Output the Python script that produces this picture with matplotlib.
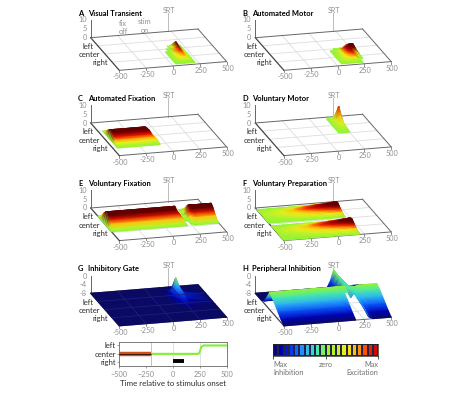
import numpy as np
import matplotlib
matplotlib.use('Agg')
import matplotlib.pyplot as plt
from matplotlib.colors import LinearSegmentedColormap

plt.rcParams['font.family'] = ['Lato', 'DejaVu Sans']
n = np.nan

# --- data: rows go back (left) to front (right), columns are ms ---
A_T = [40, 70, 100, 130, 160, 190, 220]
A_S = [.42, .5, .58, .66, .74, .82, .9, .95]
A_Z = [[0, 0, 0, 0, 1.5, 0, 0],
       [0, 0, 0, 1, 3.7, .5, 0],
       [0, 0, .3, 1.6, 3, 1, 0],
       [0, .1, .8, 1.8, 2.4, 1, 0],
       [0, .3, 1, 1.5, 1.7, .9, 0],
       [0, .3, .8, 1, 1, .6, 0],
       [0, .15, .25, .25, .25, .2, 0],
       [0, 0, 0, 0, 0, 0, 0]]

B_T = [50, 90, 130, 170, 210, 250, 280]
B_S = [.5, .55, .6, .66, .72, .78, .84, .9, .95]
B_Z = [[0, 0, 0, 0, 1.5, 1.5, 0],
       [0, 0, .3, 1.2, 2.8, 3, 0],
       [0, .1, .8, 2.4, 3.9, 3.9, 0],
       [0, .2, 1, 2.4, 3.2, 3, 0],
       [0, .3, 1, 2, 2.6, 1.5, 0],
       [0, .4, 1, 1.6, 1.9, .6, 0],
       [.1, .4, .8, 1.1, 1.1, 0, 0],
       [.1, .25, .4, .5, .4, 0, 0],
       [0, 0, 0, 0, 0, 0, 0]]

C_T = [-458, -445, -120, -100, -80, -60]
C_S = [.26, .32, .38, .44, .5, .54, .58, .62, .66, .7, .74, .78]
C_Z = [[0, 0, 0, 0, 0, 0],
       [0, 1, 1, .3, 0, 0],
       [0, 2.5, 2.5, 1, 0, 0],
       [0, 4, 4, 1.5, 0, 0],
       [0, 5, 5, 3, 0, 0],
       [0, 4.5, 4.5, 4, 1, 0],
       [0, 3.7, 3.7, 3.7, 1.5, 0],
       [0, 2.9, 2.9, 2.9, 2, 0],
       [0, 2.1, 2.1, 2.1, 2.1, .5],
       [0, 1.3, 1.3, 1.3, 1.3, .8],
       [0, .5, .5, .5, .5, .4],
       [0, 0, 0, 0, 0, 0]]

D_T = [150, 180, 205, 230, 255]
D_S = [.05, .1, .15, .2, .27, .33, .38, .43, .48]
D_Z = [[0, 0, 0, 0, 0],
       [0, 1, 1.5, 1, 0],
       [0, 1.8, 3.5, 1.8, 0],
       [0, 2.4, 6.5, 2.4, 0],
       [0, 3, 11, 3.5, 0],
       [0, 2.6, 6.5, 3, 0],
       [0, 1.8, 4, 2.4, 0],
       [0, .9, 2, 1.3, 0],
       [0, 0, 0, 0, 0]]

E_T = [-500, -480, 150, 170, 190, 210, 250, 270, 290, 310, 490, 500]
E_S = [.25, .3, .35, .4, .45, .5, .55, .6, .65, .7, .73]
E_Z = [[0, 0, 0, 0, 0, 0, 0, 0, 0, 0, 0, 0],
       [0, 1.2, 1.2, 0, 0, 0, 0, .4, 1.2, 1.2, 1.2, 0],
       [0, 2.8, 2.4, .5, 0, 0, 0, .9, 2.8, 2.8, 2.8, 0],
       [0, 4.5, 4, 1, 0, 0, 0, 1.5, 4.5, 4.5, 4.5, 0],
       [0, 6, 5.5, 1.5, 0, 0, .3, 2.5, 6, 6, 6, 0],
       [0, 7, 7, 2, 0, 0, 1, 7, 7, 7, 7, 0],
       [0, 5.8, 5.8, 3.5, 0, 0, .6, 4, 5.8, 5.8, 5.8, 0],
       [0, 4.3, 4.3, 4.3, .8, 0, 0, 2.5, 4.3, 4.3, 4.3, 0],
       [0, 2.6, 2.6, 2.6, 1.5, 0, 0, 1, 2.6, 2.6, 2.6, 0],
       [0, .9, .9, .9, .7, 0, 0, 0, .6, .9, .9, 0],
       [0, 0, 0, 0, 0, 0, 0, 0, 0, 0, 0, 0]]

# F has the same ramp twice, once for left and once for right
F_T = [-500, -400, -300, -200, -100, 0, 100, 200, 215]
F_S_BACK = [.05, .1, .15, .2, .25, .3, .35, .4, .47]
F_S_FRONT = [.55, .6, .65, .7, .75, .8, .85, .9, .99]
F_Z = [[0, 0, 0, 0, 0, 0, 0, 0, 0],
       [.1, .2, .3, .5, .7, .9, 1.1, 1.3, 0],
       [.2, .4, .65, 1, 1.5, 1.9, 2.3, 2.8, 0],
       [.3, .5, .9, 1.4, 2.1, 2.7, 3.2, 3.9, 0],
       [.3, .6, 1, 1.6, 2.3, 3, 3.6, 4.3, 0],
       [.25, .5, .8, 1.3, 1.8, 2.4, 2.9, 3.4, 0],
       [.15, .3, .55, .9, 1.3, 1.6, 2, 2.4, 0],
       [.1, .2, .3, .5, .7, .9, 1.1, 1.3, 0],
       [0, 0, 0, 0, 0, 0, 0, 0, 0]]

G_T = [-500, 130, 175, 205, 225, 245, 275, 500]
G_S = [0, .1, .18, .25, .3, .35, .4, .5, .6, .7, 1]
G_Z = [[-8, -8, -8, -8, -8, -8, -8, -8],
       [-8, -8, -8, -8, -7.8, -8, -8, -8],
       [-8, -8, -7.5, -6, -5, -6, -7.5, -8],
       [-8, -8, -6.5, -4.5, 0, -4.5, -6.5, -8],
       [-8, -8, -6.5, -4.5, -2.5, -3.5, -6, -8],
       [-8, -7.8, -6.5, -5, -3.5, -4, -6, -8],
       [-8, -7.8, -7, -5.5, -4.5, -4.5, -6, -8],
       [-8, -8, -7.5, -6.5, -6, -5.8, -6.8, -8],
       [-8, -8, -8, -7.5, -7.2, -7, -7.6, -8],
       [-8, -8, -8, -8, -8, -8, -8, -8],
       [-8, -8, -8, -8, -8, -8, -8, -8]]

H_T = [-500, -100, 120, 170, 200, 230, 260, 290, 330, 500]
H_S = [0, .1, .2, .3, .4, .5, .6, .7, .8, .9, 1]
H_Z = [[-8, -8, -8, -8, -5, 0, -3, -7, -8, -8],
       [-8, -8, -8, -8, -5.5, -.4, -2.5, -7, -8, -8],
       [-8, -8, -8, -8, -6, -.8, -2, -7, -8, -8],
       [-7, -7, -7, -7, -6, -1.2, -1.8, -6, -7, -7],
       [-4, -4, -4, -4, -4, -1.5, -1.5, -4, -4, -4],
       [0, 0, 0, 0, 0, -1, -1, -.5, 0, 0],
       [-1.3, -1.3, -1.3, -1.3, -1.3, -4, -2, -1.3, -1.3, -1.3],
       [-3, -3, -3, -3, n, n, -2.5, -3, -3, -3],
       [-4.8, -4.8, -4.8, -4.8, n, n, -3, -4.5, -4.8, -4.8],
       [-6.6, -6.6, -6.6, -6.6, n, n, -3.3, -5.6, -6.6, -6.6],
       [-8, -8, -8, -8, n, n, -3.7, -7, -8, -8]]

# inset under G: gaze trace and the fixation / stimulus bars
TRACE_T = [-205, 235, 245, 255, 265, 285, 500]
TRACE_Y = [0, 0, .1, .5, .85, 1, 1]
FIX_T = [-500, -205]
STIM_T = [0, 100]

TIME_TICKS = [-500, -250, 0, 250, 500]
SIDE_NAMES = ['left', 'center', 'right']
SIDE_POS = [.25, .5, .75]
SRT_T = 220

CMAP_COLORS = ['#0a0a62', '#0000b0', '#0038f0', '#1c78ff', '#30c0f0', '#44e8b0',
               '#90f438', '#c4f228', '#f4ec18', '#ffb008', '#f82800', '#c00000', '#600000']

GRAY_TXT = '#909090'
DARK_TXT = '#2c2c2c'

# --- oblique layout of a panel, in figure pixels ---
T_DX, T_DY = 107.3, -8.7
S_DX, S_DY = 28.6, 32.6
ZS_EXC = 1.77
ZS_INH = 2.16

cmap = LinearSegmentedColormap.from_list('exc_inh', CMAP_COLORS, N=256)

fig = plt.figure(figsize=(4.74, 3.95), dpi=100)
ax = fig.add_axes([0, 0, 1, 1])


def project(org, t, s, z, base, zs):
    a = (np.asarray(t, float) + 500) / 1000
    s = np.asarray(s, float)
    z = np.asarray(z, float)
    return (org[0] + a * T_DX + s * S_DX,
            org[1] + a * T_DY + s * S_DY - (z - base) * zs)


def draw_grid(org, base, zs, color, zorder):
    for t in TIME_TICKS[1:-1]:
        xx, yy = project(org, [t, t], [0, 1], [base, base], base, zs)
        ax.plot(xx, yy, color=color, lw=.6, zorder=zorder)
    for s in SIDE_POS:
        xx, yy = project(org, [-500, 500], [s, s], [base, base], base, zs)
        ax.plot(xx, yy, color=color, lw=.6, zorder=zorder)


def draw_frame(org, letter, name, zticks, zs, base):
    x0, y0 = org
    draw_grid(org, base, zs, '#dddddd', 1)
    # SRT marker stands on the back edge
    xx, yy = project(org, [SRT_T], [0], [base], base, zs)
    ax.plot([xx[0], xx[0]], [yy[0], y0 - 25], color='#bbbbbb', lw=.7, zorder=1)
    ax.text(xx[0] + 1, y0 - 27.5, 'SRT', color=GRAY_TXT, fontsize=5, ha='center', va='center', zorder=6)
    # plane outline
    cx, cy = project(org, [-500, 500, 500, -500, -500], [0, 0, 1, 1, 0], [base] * 5, base, zs)
    ax.plot(cx[:2], cy[:2], color='#666666', lw=.7, zorder=1.5)
    ax.plot(cx[1:3], cy[1:3], color='#666666', lw=.7, zorder=1.5)
    ax.plot(cx[2:4], cy[2:4], color='#666666', lw=.7, zorder=1.5)
    ax.plot(cx[3:5], cy[3:5], color='#444444', lw=.9, zorder=1.5)
    # time ticks on the front edge
    for t in TIME_TICKS:
        xx, yy = project(org, [t], [1], [base], base, zs)
        ax.plot([xx[0], xx[0]], [yy[0], yy[0] + 2], color='#777777', lw=.6, zorder=1.5)
        ax.text(xx[0] + 1, yy[0] + 6.5, str(t), color=GRAY_TXT, fontsize=5.3, ha='center', va='center', zorder=6)
    # side labels
    for lab, s in zip(SIDE_NAMES, SIDE_POS):
        xx, yy = project(org, [-500], [s], [base], base, zs)
        ax.text(xx[0] - 4.5, yy[0] + .8, lab, color=DARK_TXT, fontsize=5.5, ha='right', va='center', zorder=6)
    # vertical axis
    ztop = max(zticks)
    ax.plot([x0, x0], [y0, y0 - (ztop - base) * zs], color='#666666', lw=.7, zorder=1.5)
    for v in zticks:
        yy = y0 - (v - base) * zs
        ax.text(x0 - 4, yy, str(v), color=GRAY_TXT, fontsize=5.3, ha='right', va='center', zorder=6)
    # heading
    ax.text(x0 - 12.5, y0 - 24.5, letter, color='black', fontsize=5.4, fontweight='bold', va='center', zorder=6)
    ax.text(x0 - 3, y0 - 24.5, name, color='black', fontsize=5.4, fontweight='bold', va='center', zorder=6)


def draw_surface(org, T, S, Z, vmax, base, zs, zorder=3):
    Z = np.array(Z, float)
    nr, nc = Z.shape
    tt, ss = np.meshgrid(T, S)
    zz = np.where(np.isnan(Z), base, Z)
    xx, yy = project(org, tt, ss, zz, base, zs)
    tris = []
    # paint from the back row forward, far end of each row first
    for i in range(nr - 1):
        for j in range(nc - 2, -1, -1):
            p = [i * nc + j, i * nc + j + 1, (i + 1) * nc + j, (i + 1) * nc + j + 1]
            vals = Z.ravel()[p]
            if np.isnan(vals).any():
                continue
            if base == 0 and vals.max() <= 0:
                continue
            tris.append([p[0], p[1], p[3]])
            tris.append([p[0], p[3], p[2]])
    ax.tripcolor(xx.ravel(), yy.ravel(), np.array(tris), zz.ravel(), shading='gouraud',
                 cmap=cmap, vmin=-vmax, vmax=vmax, zorder=zorder)


X_L, X_R = 90.7, 255.3
Y_ROWS = [37.7, 123.0, 208.0, 293.3]
EXC_TICKS = [0, 5, 10]
INH_TICKS = [-8, -4, 0]

draw_frame((X_L, Y_ROWS[0]), 'A', 'Visual Transient', EXC_TICKS, ZS_EXC, 0)
draw_surface((X_L, Y_ROWS[0]), A_T, A_S, A_Z, 3, 0, ZS_EXC)
draw_frame((X_R, Y_ROWS[0]), 'B', 'Automated Motor', EXC_TICKS, ZS_EXC, 0)
draw_surface((X_R, Y_ROWS[0]), B_T, B_S, B_Z, 3, 0, ZS_EXC)
draw_frame((X_L, Y_ROWS[1]), 'C', 'Automated Fixation', EXC_TICKS, ZS_EXC, 0)
draw_surface((X_L, Y_ROWS[1]), C_T, C_S, C_Z, 4.2, 0, ZS_EXC)
draw_frame((X_R, Y_ROWS[1]), 'D', 'Voluntary Motor', EXC_TICKS, ZS_EXC, 0)
draw_surface((X_R, Y_ROWS[1]), D_T, D_S, D_Z, 14, 0, ZS_EXC)
draw_frame((X_L, Y_ROWS[2]), 'E', 'Voluntary Fixation', EXC_TICKS, ZS_EXC, 0)
draw_surface((X_L, Y_ROWS[2]), E_T, E_S, E_Z, 5.8, 0, ZS_EXC)
draw_frame((X_R, Y_ROWS[2]), 'F', 'Voluntary Preparation', EXC_TICKS, ZS_EXC, 0)
draw_surface((X_R, Y_ROWS[2]), F_T, F_S_BACK, F_Z, 3.4, 0, ZS_EXC)
draw_surface((X_R, Y_ROWS[2]), F_T, F_S_FRONT, F_Z, 3.4, 0, ZS_EXC, zorder=3.1)
draw_frame((X_L, Y_ROWS[3]), 'G', 'Inhibitory Gate', INH_TICKS, ZS_INH, -8)
draw_surface((X_L, Y_ROWS[3]), G_T, G_S, G_Z, 8, -8, ZS_INH, zorder=2)
draw_grid((X_L, Y_ROWS[3]), -8, ZS_INH, '#1c1c80', 2.5)
draw_frame((X_R, Y_ROWS[3]), 'H', 'Peripheral Inhibition', INH_TICKS, ZS_INH, -8)
draw_surface((X_R, Y_ROWS[3]), H_T, H_S, H_Z, 8, -8, ZS_INH)

ax.text(123, 23, 'fix', color=GRAY_TXT, fontsize=5.3, ha='center', va='center', zorder=6)
ax.text(123, 31.5, 'off', color=GRAY_TXT, fontsize=5.3, ha='center', va='center', zorder=6)
ax.text(144.5, 22, 'stim', color=GRAY_TXT, fontsize=5.3, ha='center', va='center', zorder=6)
ax.text(144.5, 30.5, 'on', color=GRAY_TXT, fontsize=5.3, ha='center', va='center', zorder=6)

ax.set_xlim(0, 474)
ax.set_ylim(395, 0)
ax.axis('off')

# --- gaze inset under panel G ---
ins = fig.add_axes([119.3 / 474, 1 - 366 / 395, 107.4 / 474, 24.3 / 395])
for v, c in zip([-205, 0, 250], ['#bbbbbb', '#dddddd', '#dddddd']):
    ins.axvline(v, color=c, lw=.6, zorder=1)
ins.plot(TRACE_T, TRACE_Y, color='#80f030', lw=1.5, zorder=2)
ins.plot(FIX_T, [0, 0], color='#d0501c', lw=3.2, solid_capstyle='butt', zorder=3)
ins.plot(FIX_T, [0, 0], color='black', lw=.5, zorder=4)
ins.plot(STIM_T, [-.9, -.9], color='black', lw=2.8, solid_capstyle='butt', zorder=3)
ins.set_xlim(-500, 500)
ins.set_ylim(-1.45, 1.45)
ins.set_xticks(TIME_TICKS)
ins.set_yticks([1, 0, -1])
ins.set_yticklabels(SIDE_NAMES, color=DARK_TXT, fontsize=5.5)
ins.tick_params(axis='x', labelsize=5.3, labelcolor=GRAY_TXT, length=1.5, width=.5, pad=2, color='#777777')
ins.tick_params(axis='y', length=1.5, width=.5, pad=1, color='#777777')
for sp in ins.spines.values():
    sp.set_color('#666666')
    sp.set_linewidth(.6)
ins.set_xlabel('Time relative to stimulus onset', fontsize=5.7, color=DARK_TXT, labelpad=1.5)

# --- colour key under panel H, its top cell stops at plain red ---
key = fig.add_axes([273 / 474, 1 - 356 / 395, 105 / 474, 11.7 / 395])
edges = np.linspace(-1, 1, 21)
mids = (edges[:-1] + edges[1:]) / 2
key.pcolormesh(edges, [0, 1], np.where(mids > 0, mids * .82, mids).reshape(1, -1), cmap=cmap, vmin=-1, vmax=1,
               edgecolors='#22224a', linewidth=.25)
key.set_xlim(-1, 1)
key.set_yticks([])
key.set_xticks([-1, 0, 1])
key.set_xticklabels(['Max\nInhibition', 'zero', 'Max\nExcitation'], fontsize=5.3, color='#707070', linespacing=1.25)
labs = key.get_xticklabels()
labs[0].set_ha('left')
labs[2].set_ha('right')
key.tick_params(axis='x', length=2.5, width=.6, pad=1, color='#333333')
for sp in key.spines.values():
    sp.set_linewidth(.5)
    sp.set_color('#222222')

fig.savefig('out.png', dpi=100)
